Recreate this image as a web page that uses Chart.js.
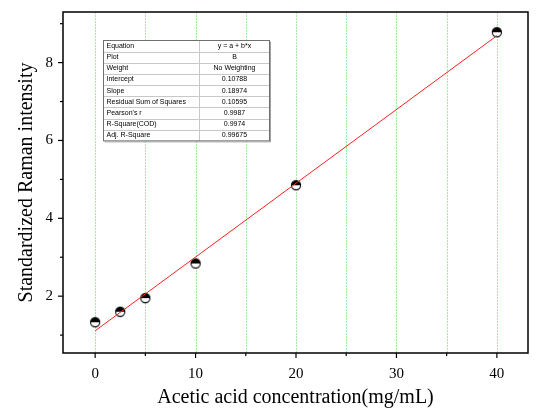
<!DOCTYPE html>
<html>
<head>
<meta charset="utf-8">
<script src="https://cdn.jsdelivr.net/npm/chart.js@4/dist/chart.umd.min.js"></script>
<style>
    html, body { margin: 0; padding: 0; background: #fff; }
</style>
</head>
<body>
<canvas id="ramanChart" width="550" height="413"></canvas>
<script>
// Data
const concentrations = [0, 2.5, 5, 10, 20, 40];
const intensities = [1.33, 1.60, 1.95, 2.84, 4.85, 8.78];

// Linear fit line end points
const fitX = [0, 40];
const fitY = [1.11, 8.69];

// Axis ticks
const xTicks = [0, 5, 10, 15, 20, 25, 30, 35, 40];
const xLabels = [0, 10, 20, 30, 40];
const yTicks = [1, 2, 3, 4, 5, 6, 7, 8, 9];
const yLabels = [2, 4, 6, 8];

// Fit statistics table
const tableNames = ['Equation', 'Plot', 'Weight', 'Intercept', 'Slope',
    'Residual Sum of Squares', "Pearson's r", 'R-Square(COD)', 'Adj. R-Square'];
const tableValues = ['y = a + b*x', 'B', 'No Weighting', '0.10788', '0.18974',
    '0.10595', '0.9987', '0.9974', '0.99675'];

document.addEventListener('DOMContentLoaded', function() {
    const canvas = document.getElementById('ramanChart');
    const ctx = canvas.getContext('2d');

    // half filled circle marker (top black, bottom white)
    const marker = document.createElement('canvas');
    marker.width = 12;
    marker.height = 12;
    const m = marker.getContext('2d');
    m.fillStyle = '#fff';
    m.beginPath(); m.arc(6, 6, 4.6, 0, Math.PI * 2); m.fill();
    m.fillStyle = '#000';
    m.beginPath(); m.arc(6, 6, 4.6, Math.PI, 0); m.closePath(); m.fill();
    m.strokeStyle = '#000';
    m.lineWidth = 1.1;
    m.beginPath(); m.arc(6, 6, 4.6, 0, Math.PI * 2); m.stroke();

    const framePlugin = {
        id: 'originFrame',
        beforeDatasetsDraw(chart) {
            const c = chart.ctx, a = chart.chartArea, x = chart.scales.x;
            c.save();
            c.strokeStyle = '#a0eca0';
            c.lineWidth = 1;
            c.setLineDash([2, 1]);
            xTicks.forEach(function(v) {
                const px = Math.round(x.getPixelForValue(v)) + 0.5;
                c.beginPath(); c.moveTo(px, a.top); c.lineTo(px, a.bottom); c.stroke();
            });
            c.restore();
        },
        afterDraw(chart) {
            const c = chart.ctx, a = chart.chartArea;
            const x = chart.scales.x, y = chart.scales.y;
            c.save();
            c.strokeStyle = '#000';
            c.lineWidth = 1.5;
            c.strokeRect(a.left, a.top, a.right - a.left, a.bottom - a.top);
            c.lineWidth = 1.2;
            xTicks.forEach(function(v) {
                const px = x.getPixelForValue(v);
                const len = xLabels.includes(v) ? 5 : 3;
                c.beginPath(); c.moveTo(px, a.bottom); c.lineTo(px, a.bottom + len); c.stroke();
            });
            yTicks.forEach(function(v) {
                const py = y.getPixelForValue(v);
                const len = yLabels.includes(v) ? 5 : 3;
                c.beginPath(); c.moveTo(a.left, py); c.lineTo(a.left - len, py); c.stroke();
            });

            // statistics table
            const left = 103.5, right = 269.5, top = 40.5, rowH = 11.15, split = 199.5;
            const bottom = top + rowH * tableNames.length;
            c.fillStyle = '#fff';
            c.fillRect(left, top, right - left, bottom - top);
            c.strokeStyle = '#c8c8c8';
            c.lineWidth = 1;
            for (let i = 1; i < tableNames.length; i++) {
                const ry = Math.round(top + rowH * i) + 0.5;
                c.beginPath(); c.moveTo(left, ry); c.lineTo(right, ry); c.stroke();
            }
            c.beginPath(); c.moveTo(split, top); c.lineTo(split, bottom); c.stroke();
            c.strokeStyle = '#707070';
            c.strokeRect(left, top, right - left, bottom - top);
            c.strokeStyle = '#a0a0a0';
            c.beginPath();
            c.moveTo(right + 1, top + 1); c.lineTo(right + 1, bottom + 1); c.lineTo(left + 1, bottom + 1);
            c.stroke();
            c.fillStyle = '#000';
            c.font = '7px "Liberation Sans", Arial, sans-serif';
            c.textBaseline = 'middle';
            tableNames.forEach(function(name, i) {
                const cy = top + rowH * i + rowH / 2;
                c.textAlign = 'left';
                c.fillText(name, left + 3, cy);
                c.textAlign = 'center';
                c.fillText(tableValues[i], (split + right) / 2, cy);
            });
            c.restore();
        }
    };

    const serif = '"Liberation Serif", "Times New Roman", serif';

    new Chart(ctx, {
        type: 'scatter',
        data: {
            datasets: [{
                label: 'Fit',
                data: fitX.map(function(v, i) { return { x: v, y: fitY[i] }; }),
                showLine: true,
                borderColor: '#ff2020',
                borderWidth: 1,
                pointRadius: 0,
                order: 0
            }, {
                label: 'B',
                data: concentrations.map(function(v, i) { return { x: v, y: intensities[i] }; }),
                pointStyle: marker,
                order: 1
            }]
        },
        options: {
            responsive: false,
            animation: false,
            events: [],
            layout: { padding: { top: 12, right: 22, left: 0, bottom: 0 } },
            plugins: {
                legend: { display: false },
                tooltip: { enabled: false }
            },
            scales: {
                x: {
                    type: 'linear',
                    min: -3.2,
                    max: 43.1,
                    afterBuildTicks: function(scale) {
                        scale.ticks = xLabels.map(function(v) { return { value: v }; });
                    },
                    afterFit: function(scale) {
                        scale.height = 60;
                        scale.paddingLeft = 0;
                        scale.paddingRight = 0;
                    },
                    grid: { display: false },
                    border: { display: false },
                    ticks: {
                        color: '#000',
                        padding: 4,
                        maxRotation: 0,
                        font: { family: serif, size: 15 }
                    },
                    title: {
                        display: true,
                        text: 'Acetic acid concentration(mg/mL)',
                        color: '#000',
                        padding: { top: 0, bottom: 3 },
                        font: { family: serif, size: 20 }
                    }
                },
                y: {
                    type: 'linear',
                    min: 0.54,
                    max: 9.3,
                    afterBuildTicks: function(scale) {
                        scale.ticks = yLabels.map(function(v) { return { value: v }; });
                    },
                    afterFit: function(scale) {
                        scale.width = 63;
                        scale.paddingTop = 0;
                        scale.paddingBottom = 0;
                    },
                    grid: { display: false },
                    border: { display: false },
                    ticks: {
                        color: '#000',
                        padding: 2,
                        font: { family: serif, size: 15 }
                    },
                    title: {
                        display: true,
                        text: 'Standardized Raman intensity',
                        color: '#000',
                        padding: { top: 15, bottom: 0 },
                        font: { family: serif, size: 20 }
                    }
                }
            }
        },
        plugins: [framePlugin]
    });
});
</script>
</body>
</html>
